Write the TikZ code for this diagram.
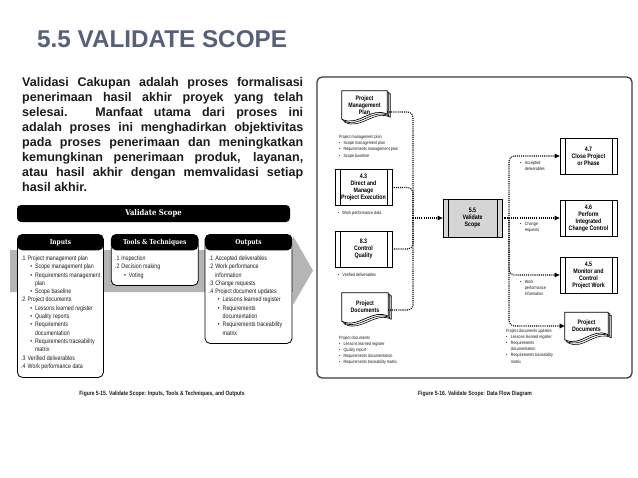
\documentclass[tikz,border=0pt]{standalone}
\usepackage{fontspec}
\setmainfont{Liberation Sans}
\newfontfamily\condfont[FakeStretch=0.82]{Liberation Sans}
\newfontfamily\slabfont[FakeStretch=0.86]{DejaVu Serif}
\usepackage{xcolor}
\usepackage{tikz}
\usetikzlibrary{positioning, arrows.meta, calc}
\definecolor{titleSlate}{HTML}{56607A}
\definecolor{bodyInk}{HTML}{1C1C1C}
\definecolor{arrowGrey}{HTML}{B5B5B5}
\definecolor{scopeGrey}{HTML}{D5D5D5}
\definecolor{frameGrey}{HTML}{3C3C3C}
\pgfdeclarelayer{bg}
\pgfsetlayers{bg,main}
\newdimen\pxu
\pxu=0.03cm
% list helpers
\newcommand{\lnum}[1]{\makebox[1em][l]{#1}}
\newcommand{\lsub}{\hspace*{1.4em}\makebox[0.75em][l]{•}}
\newcommand{\lsubc}{\hspace*{2.15em}}
\newcommand{\lcont}{\hspace*{1em}}
\newcommand{\rbul}{\makebox[1em][l]{•}}
\newcommand{\rcont}{\hspace*{1em}}
% sheet with curled bottom, #2 = offset
\newcommand{\docsheet}[2]{($(#1.north west)+(#2)$) -- ($(#1.north east)+(#2)$) -- ($(#1.south east)+(0,-5)+(#2)$) .. controls +(-16,-8) and +(16,8) .. ($(#1.south west)+(#2)$) -- cycle}
\newcommand{\docpage}[1]{%
  \begin{pgfonlayer}{bg}
    \filldraw[fill=white, draw=black, line width=0.5pt] \docsheet{#1}{3,3};
    \filldraw[fill=white, draw=black, line width=0.5pt] \docsheet{#1}{1.5,1.5};
    \filldraw[fill=white, draw=black, line width=0.6pt] \docsheet{#1}{0,0};
  \end{pgfonlayer}}

\begin{document}
\begin{tikzpicture}[x=0.03cm, y=-0.03cm,
  iobox/.style={draw, rounded corners=5\pxu, line width=0.7pt, fill=white, anchor=north west,
    path picture={\fill[black] (path picture bounding box.north west) rectangle ($(path picture bounding box.north east)+(0,16)$);}},
  ioHead/.style={anchor=north, minimum height=16\pxu, inner sep=0, text=white, font=\slabfont\bfseries\fontsize{5.8}{6}\selectfont},
  ioList/.style={anchor=north west, align=left, inner sep=0, text=bodyInk, font=\condfont\fontsize{5.5}{7.1}\selectfont},
  procbox/.style={draw, line width=0.6pt, fill=white, minimum width=57\pxu, minimum height=36\pxu, align=center, inner sep=1pt,
    font=\condfont\bfseries\fontsize{5.5}{6}\selectfont,
    path picture={\draw[line width=0.5pt] ($(path picture bounding box.north west)+(5,0)$) -- ($(path picture bounding box.south west)+(5,0)$)
      ($(path picture bounding box.north east)+(-5,0)$) -- ($(path picture bounding box.south east)+(-5,0)$);}},
  docnode/.style={minimum height=28\pxu, align=center, inner sep=1pt, font=\condfont\bfseries\fontsize{5.5}{6}\selectfont},
  rLabel/.style={anchor=north west, align=left, inner sep=0, text=bodyInk, font=\condfont\fontsize{3.9}{5.2}\selectfont},
  caption/.style={text=bodyInk, font=\condfont\bfseries\fontsize{5.2}{6}\selectfont},
  flow/.style={line width=0.9pt, dash pattern=on 0.9pt off 0.9pt},
  flowArrow/.style={flow, -{Triangle[length=4.3pt, width=3.8pt]}}]

\begin{pgfonlayer}{bg}
  \fill[white] (0,0) rectangle (638,478);
\end{pgfonlayer}
\useasboundingbox (0,0) rectangle (638,478);

% heading and text
\node[anchor=west, inner sep=0, text=titleSlate, font=\bfseries\fontsize{20.7}{24}\selectfont] (title) at (37,39) {5.5 VALIDATE SCOPE};
\node[anchor=north west, text width=281\pxu, align=justify, inner sep=0, text=bodyInk, font=\bfseries\fontsize{10.7}{12.8}\selectfont]
  (intro) at (22,77) {Validasi Cakupan adalah proses formalisasi\linebreak
  penerimaan hasil akhir proyek yang telah\linebreak
  selesai. Manfaat utama dari proses ini\linebreak
  adalah proses ini menghadirkan objektivitas\linebreak
  pada proses penerimaan dan meningkatkan\linebreak
  kemungkinan penerimaan produk, layanan,\linebreak
  atau hasil akhir dengan memvalidasi setiap\linebreak
  hasil akhir.};

% figure 5-15
\fill[arrowGrey] (10,250) -- (293,250) -- (293,236) -- (313,270.5) -- (293,305) -- (293,292) -- (10,292) -- cycle;
\node[fill=black, rounded corners=4\pxu, minimum width=273\pxu, minimum height=17\pxu, text=white,
  font=\slabfont\bfseries\fontsize{6.8}{7}\selectfont] (vsbar) at (153.5,213.5) {Validate Scope};
\node[iobox, minimum width=86\pxu, minimum height=143\pxu] (inputs) at (17,234) {};
\node[iobox, minimum width=87\pxu, minimum height=51\pxu, right=7\pxu of inputs.north east, anchor=north west] (tools) {};
\node[iobox, minimum width=87\pxu, minimum height=109\pxu, right=6\pxu of tools.north east, anchor=north west] (outputs) {};
\node[ioHead] (inputsHead) at (inputs.north) {Inputs};
\node[ioHead] (toolsHead) at (tools.north) {Tools \& Techniques};
\node[ioHead] (outputsHead) at (outputs.north) {Outputs};
\node[ioList] (inputsList) at ($(inputs.north west)+(4,21.5)$) {\lnum{.1}Project management plan\\
  \lsub Scope management plan\\
  \lsub Requirements management\\
  \lsubc plan\\
  \lsub Scope baseline\\
  \lnum{.2}Project documents\\
  \lsub Lessons learned register\\
  \lsub Quality reports\\
  \lsub Requirements\\
  \lsubc documentation\\
  \lsub Requirements traceability\\
  \lsubc matrix\\
  \lnum{.3}Verified deliverables\\
  \lnum{.4}Work performance data};
\node[ioList] (toolsList) at ($(tools.north west)+(4,21.5)$) {\lnum{.1}Inspection\\
  \lnum{.2}Decision making\\
  \lsub Voting};
\node[ioList] (outputsList) at ($(outputs.north west)+(4,21.5)$) {\lnum{.1}Accepted deliverables\\
  \lnum{.2}Work performance\\
  \lcont information\\
  \lnum{.3}Change requests\\
  \lnum{.4}Project document updates\\
  \lsub Lessons learned register\\
  \lsub Requirements\\
  \lsubc documentation\\
  \lsub Requirements traceability\\
  \lsubc matrix};
\node[caption] (capLeft) at (162,394) {Figure 5-15. Validate Scope: Inputs, Tools \& Techniques, and Outputs};

% figure 5-16
\draw[frameGrey, line width=1.1pt, rounded corners=5\pxu] (317,77) rectangle (632,378);
\node[docnode, minimum width=45\pxu] (pmp) at (364.5,105) {Project\\Management\\Plan};
\docpage{pmp}
\node[procbox] (dme) at (363.5,187.5) {4.3\\Direct and\\Manage\\Project Execution};
\node[procbox] (cq) at (363.5,249) {8.3\\Control\\Quality};
\node[docnode, minimum width=46\pxu] (pdi) at (365,307) {Project\\Documents};
\docpage{pdi}
\node[procbox, fill=scopeGrey, minimum width=59\pxu, minimum height=38\pxu] (vs) at (472.5,218) {5.5\\Validate\\Scope};
\node[procbox] (cp) at (588.5,156) {4.7\\Close Project\\or Phase};
\node[procbox] (pic) at (588.5,218) {4.6\\Perform\\Integrated\\Change Control};
\node[procbox] (mc) at (588.5,275) {4.5\\Monitor and\\Control\\Project Work};
\node[docnode, minimum width=43\pxu, minimum height=27\pxu] (pdo) at (586.5,326) {Project\\Documents};
\docpage{pdo}

\coordinate (jin) at (413,218);
\coordinate (jout) at (509,218);
\draw[flow, rounded corners=5\pxu] (jin) |- ($(pmp.east)+(0,7)$);
\draw[flow, rounded corners=5\pxu] (jin) |- (dme.east);
\draw[flow, rounded corners=5\pxu] (jin) |- (cq.east);
\draw[flow, rounded corners=5\pxu] (jin) |- ($(pdi.east)+(0,3)$);
\draw[flowArrow] (jin) -- (vs.west);
\draw[flow] (vs.east) -- (jout);
\draw[flowArrow, rounded corners=5\pxu] (jout) |- (cp.west);
\draw[flowArrow] (jout) -- (pic.west);
\draw[flowArrow, rounded corners=5\pxu] (jout) |- (mc.west);
\draw[flowArrow, rounded corners=5\pxu] (jout) |- (pdo.west);

\node[rLabel, below right=16\pxu and -3\pxu of pmp.south west] (pmpNote) {Project management plan\\
  \rbul Scope management plan\\
  \rbul Requirements management plan\\
  \rbul Scope baseline};
\node[rLabel, below right=5\pxu and 3\pxu of dme.south west] (dmeNote) {\rbul Work performance data};
\node[rLabel, below right=6\pxu and 3\pxu of cq.south west] (cqNote) {\rbul Verified deliverables};
\node[rLabel, below right=14.5\pxu and -3\pxu of pdi.south west] (pdiNote) {Project documents\\
  \rbul Lessons learned register\\
  \rbul Quality report\\
  \rbul Requirements documentation\\
  \rbul Requirements traceability matrix};
\node[rLabel] (accNote) at (520,161) {\rbul Accepted\\\rcont deliverables};
\node[rLabel] (chgNote) at (520,222) {\rbul Change\\\rcont requests};
\node[rLabel] (wpiNote) at (520,280) {\rbul Work\\\rcont performance\\\rcont information};
\node[rLabel] (pduNote) at (506,329) {Project documents updates\\
  \rbul Lessons learned register\\
  \rbul Requirements\\
  \rcont documentation\\
  \rbul Requirements traceability\\
  \rcont matrix};
\node[caption] (capRight) at (475,394) {Figure 5-16. Validate Scope: Data Flow Diagram};
\end{tikzpicture}
\end{document}
